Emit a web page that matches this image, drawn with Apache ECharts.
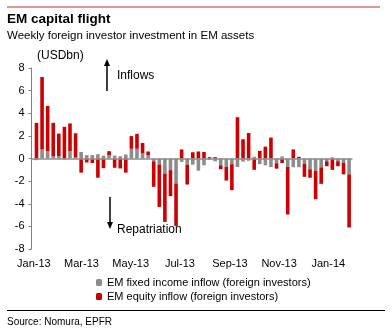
<!DOCTYPE html>
<html>
<head>
<meta charset="utf-8">
<script src="https://cdn.jsdelivr.net/npm/echarts@6/dist/echarts.min.js"></script>
<style>
  html, body { margin: 0; padding: 0; background: #fff; }
  #chart { width: 392px; height: 333px; }
</style>
</head>
<body>
<div id="chart"></div>
<script>
// Week-ending dates (Wednesdays) of the weekly fund-flow data
const weeks = [
  '2013/01/02','2013/01/09','2013/01/16','2013/01/23','2013/01/30',
  '2013/02/06','2013/02/13','2013/02/20','2013/02/27',
  '2013/03/06','2013/03/13','2013/03/20','2013/03/27',
  '2013/04/03','2013/04/10','2013/04/17','2013/04/24',
  '2013/05/01','2013/05/08','2013/05/15','2013/05/22','2013/05/29',
  '2013/06/05','2013/06/12','2013/06/19','2013/06/26',
  '2013/07/03','2013/07/10','2013/07/17','2013/07/24','2013/07/31',
  '2013/08/07','2013/08/14','2013/08/21','2013/08/28',
  '2013/09/04','2013/09/11','2013/09/18','2013/09/25',
  '2013/10/02','2013/10/09','2013/10/16','2013/10/23','2013/10/30',
  '2013/11/06','2013/11/13','2013/11/20','2013/11/27',
  '2013/12/04','2013/12/11','2013/12/18','2013/12/25',
  '2014/01/01','2014/01/08','2014/01/15','2014/01/22','2014/01/29'
];

// EM fixed income inflow (foreign investors), USD bn
const fixedIncome = [
  -0.15, 0.8, 0.65, 0.2, 0.2, -0.1, 0.65, 0.08, 0.58, 0.3,
  0.3, 0.38, 0.25, 0.27, 0.26, 0.2, 0.35, 0.86, 0.86, 0.45,
  0.3, -0.25, -0.53, -1.33, -1.03, -2.2, -0.3, -0.55, -0.55, -1.08,
  -0.6, -0.1, -0.25, -0.6, -0.75, -0.5, -0.75, -0.28, -0.2, 0.15,
  -0.5, -0.6, -0.75, -0.42, 0.18, -0.75, -0.77, -0.77, -0.46, -0.95,
  -1.1, -0.78, -0.24, 0.1, -0.24, -0.4, -1.4
];

// EM equity inflow (foreign investors), USD bn
const equity = [
  3.15, 6.4, 4.0, 2.95, 2.0, 2.8, 2.45, 2.15, -1.25, -0.35,
  -0.4, -1.7, -0.85, 0.38, -0.82, -0.88, -1.25, 1.12, 1.32, 0.92,
  0.32, -2.25, -3.75, -4.27, -2.3, -3.76, 0.8, -1.75, 0.55, 0.62,
  0.58, 0.12, 0.12, -0.35, -1.2, -2.3, 3.65, 1.7, 2.25, -1.0,
  0.68, 1.05, 1.85, -0.48, -0.4, -4.2, 0.8, 0.15, -1.16, -0.75,
  -2.5, -1.46, -0.44, -1.0, -0.44, -1.0, -4.7
];

// Month labels along the bottom axis
const tickDates = ['2013/01/01','2013/03/01','2013/05/01','2013/07/01','2013/09/01','2013/11/01','2014/01/01'];
const tickLabels = ['Jan-13','Mar-13','May-13','Jul-13','Sep-13','Nov-13','Jan-14'];

const seriesNames = ['EM fixed income inflow (foreign investors)', 'EM equity inflow (foreign investors)'];

const FONT = 'Arial, "Liberation Sans", sans-serif';
const DAY = 86400000;
const ts = s => new Date(s).getTime();
const axisStart = '2012/12/29';
const axisEnd = '2014/01/31';
// label axis counts days from the axis start
const dayOf = s => Math.round((ts(s) - ts(axisStart)) / DAY);
const tickDays = tickDates.map(dayOf);

const chart = echarts.init(document.getElementById('chart'), null, { renderer: 'canvas' });

chart.setOption({
  animation: false,
  backgroundColor: '#ffffff',
  textStyle: { fontFamily: FONT },
  grid: { left: 31.5, right: 39.5, top: 68, bottom: 84, containLabel: false },
  xAxis: [
    {
      // time axis carrying the weekly bars
      type: 'time',
      min: ts(axisStart),
      max: ts(axisEnd),
      axisLine: { show: false, onZero: false },
      axisTick: { show: false },
      axisLabel: { show: false },
      splitLine: { show: false }
    },
    {
      // same span in days, used only for the month labels
      type: 'value',
      position: 'bottom',
      min: 0,
      max: dayOf(axisEnd),
      axisLine: { show: false, onZero: false },
      axisTick: { show: false },
      splitLine: { show: false },
      axisLabel: {
        customValues: tickDays,
        margin: 9,
        fontSize: 11,
        color: '#000',
        fontFamily: FONT,
        hideOverlap: false,
        formatter: v => {
          const i = tickDays.indexOf(Math.round(v));
          return i >= 0 ? tickLabels[i] : '';
        }
      }
    }
  ],
  yAxis: {
    type: 'value',
    min: -8,
    max: 8,
    interval: 2,
    axisLine: { show: true, lineStyle: { color: '#808080', width: 1 } },
    axisTick: { show: true, inside: false, length: 3, lineStyle: { color: '#808080' } },
    splitLine: { show: false },
    axisLabel: { fontSize: 11, color: '#000', margin: 7, fontFamily: FONT }
  },
  legend: {
    orient: 'vertical',
    left: 91,
    top: 272,
    itemGap: 3,
    itemWidth: 6,
    itemHeight: 7,
    icon: 'roundRect',
    textStyle: { fontSize: 11, color: '#000', fontFamily: FONT },
    data: seriesNames
  },
  series: [
    {
      name: seriesNames[0],
      type: 'bar',
      stack: 'flows',
      xAxisIndex: 0,
      barWidth: 3.6,
      itemStyle: { color: '#8c8c8c' },
      data: weeks.map((w, i) => [ts(w), fixedIncome[i]]),
      markLine: {
        silent: true,
        symbol: 'none',
        label: { show: false },
        lineStyle: { color: '#8c8c8c', width: 1.5, type: 'solid' },
        data: [{ yAxis: 0 }],
        z: 5
      }
    },
    {
      name: seriesNames[1],
      type: 'bar',
      stack: 'flows',
      xAxisIndex: 0,
      barWidth: 3.6,
      itemStyle: { color: '#cc0000' },
      data: weeks.map((w, i) => [ts(w), equity[i]])
    }
  ],
  graphic: [
    { type: 'line', shape: { x1: 7, y1: 7, x2: 380, y2: 7 }, style: { stroke: '#c0302b', lineWidth: 1 } },
    { type: 'text', left: 7, top: 12, style: { text: 'EM capital flight', font: 'bold 13.5px ' + FONT, fill: '#000' } },
    { type: 'text', left: 7, top: 30, style: { text: 'Weekly foreign investor investment in EM assets', font: '11.5px ' + FONT, fill: '#000' } },
    { type: 'text', left: 37, top: 50, style: { text: '(USDbn)', font: '12px ' + FONT, fill: '#000' } },
    // upward arrow with caption
    { type: 'line', shape: { x1: 107, y1: 91, x2: 107, y2: 64 }, style: { stroke: '#000', lineWidth: 1.5 } },
    { type: 'polygon', shape: { points: [[107, 59], [104, 66], [110, 66]] }, style: { fill: '#000' } },
    { type: 'text', left: 117, top: 70, style: { text: 'Inflows', font: '12px ' + FONT, fill: '#000' } },
    // downward arrow with caption
    { type: 'line', shape: { x1: 110, y1: 197, x2: 110, y2: 223 }, style: { stroke: '#000', lineWidth: 1.5 } },
    { type: 'polygon', shape: { points: [[110, 229], [107, 222], [113, 222]] }, style: { fill: '#000' } },
    { type: 'text', left: 117, top: 224, style: { text: 'Repatriation', font: '12px ' + FONT, fill: '#000' } },
    // footer
    { type: 'line', shape: { x1: 7, y1: 310.5, x2: 385, y2: 310.5 }, style: { stroke: '#000', lineWidth: 1 } },
    { type: 'text', left: 7, top: 317, style: { text: 'Source: Nomura, EPFR', font: '10px ' + FONT, fill: '#000' } }
  ]
});
</script>
</body>
</html>
